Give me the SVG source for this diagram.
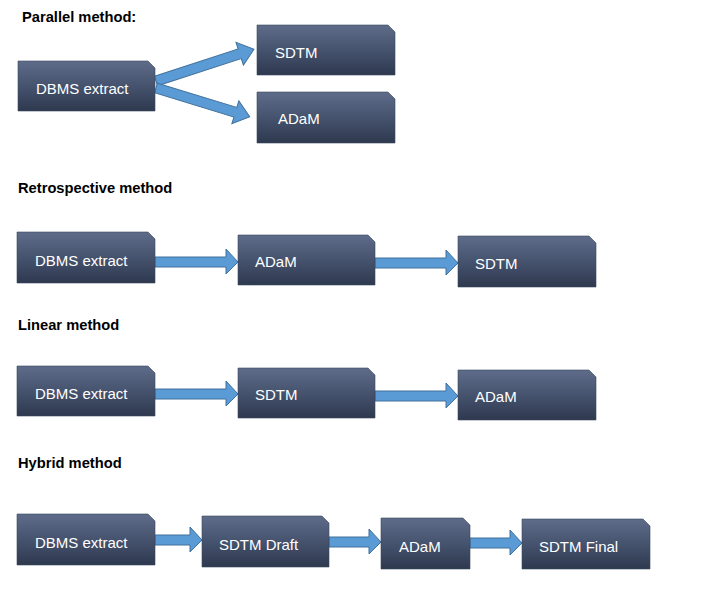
<svg xmlns="http://www.w3.org/2000/svg" width="718" height="602" viewBox="0 0 718 602">
<defs>
<linearGradient id="g" x1="0" y1="0" x2="0" y2="1">
<stop offset="0" stop-color="#5e6c8a"/>
<stop offset="0.5" stop-color="#46536e"/>
<stop offset="1" stop-color="#2e394f"/>
</linearGradient>
</defs>
<style>
.box{fill:url(#g);stroke:#3a4660;stroke-width:0.6}
.lbl{font-family:"Liberation Sans",Arial,sans-serif;font-size:15px;fill:#ffffff}
.ttl{font-family:"Liberation Sans",Arial,sans-serif;font-size:14.7px;font-weight:bold;fill:#000000}
.arr{fill:#5b9bd5;stroke:#41719c;stroke-width:1}
</style>
<rect width="718" height="602" fill="#ffffff"/>

<text class="ttl" x="22" y="22">Parallel method:</text>
<text class="ttl" x="18" y="193">Retrospective method</text>
<text class="ttl" x="18" y="330">Linear method</text>
<text class="ttl" x="18" y="468">Hybrid method</text>

<g id="connectors">
<path class="arr" transform="translate(156,81) rotate(-18)" d="M0,-5 H88 V-12 L103,0 L88,12 V5 H0 Z"/>
<path class="arr" transform="translate(156,88) rotate(17)" d="M0,-5 H83 V-12 L98,0 L83,12 V5 H0 Z"/>
<path class="arr" d="M155,257 H226 V249 L238,262 L226,274 V267 H155 Z"/>
<path class="arr" d="M375,258 H446 V250 L458,263 L446,275 V268 H375 Z"/>
<path class="arr" d="M155,389 H226 V381 L238,394 L226,406 V399 H155 Z"/>
<path class="arr" d="M375,391 H446 V383 L458,396 L446,408 V401 H375 Z"/>
<path class="arr" d="M155,535 H190 V527 L202,540 L190,552 V545 H155 Z"/>
<path class="arr" d="M329,537 H369 V529 L381,542 L369,554 V547 H329 Z"/>
<path class="arr" d="M470,538 H510 V530 L522,543 L510,555 V548 H470 Z"/>
</g>

<g id="p-dbms"><path class="box" d="M18,61 H148 L155,68 V111 H18 Z"/><text class="lbl" x="36" y="94">DBMS extract</text></g>
<g id="p-sdtm"><path class="box" d="M257,25 H388 L395,32 V75 H257 Z"/><text class="lbl" x="275" y="58">SDTM</text></g>
<g id="p-adam"><path class="box" d="M257,92 H388 L395,99 V143 H257 Z"/><text class="lbl" x="278" y="124">ADaM</text></g>

<g id="r-dbms"><path class="box" d="M17,232 H148 L155,239 V283 H17 Z"/><text class="lbl" x="35" y="266">DBMS extract</text></g>
<g id="r-adam"><path class="box" d="M238,235 H368 L375,242 V285 H238 Z"/><text class="lbl" x="255" y="267">ADaM</text></g>
<g id="r-sdtm"><path class="box" d="M458,236 H589 L596,243 V287 H458 Z"/><text class="lbl" x="475" y="269">SDTM</text></g>

<g id="l-dbms"><path class="box" d="M17,366 H148 L155,373 V416 H17 Z"/><text class="lbl" x="35" y="399">DBMS extract</text></g>
<g id="l-sdtm"><path class="box" d="M238,368 H368 L375,375 V418 H238 Z"/><text class="lbl" x="255" y="400">SDTM</text></g>
<g id="l-adam"><path class="box" d="M458,370 H589 L596,377 V420 H458 Z"/><text class="lbl" x="475" y="402">ADaM</text></g>

<g id="h-dbms"><path class="box" d="M17,514 H148 L155,521 V565 H17 Z"/><text class="lbl" x="35" y="548">DBMS extract</text></g>
<g id="h-sdtmdraft"><path class="box" d="M202,516 H322 L329,523 V567 H202 Z"/><text class="lbl" x="219" y="550">SDTM Draft</text></g>
<g id="h-adam"><path class="box" d="M381,518 H463 L470,525 V569 H381 Z"/><text class="lbl" x="399" y="552">ADaM</text></g>
<g id="h-sdtmfinal"><path class="box" d="M522,519 H643 L650,526 V569 H522 Z"/><text class="lbl" x="539" y="552">SDTM Final</text></g>
</svg>
